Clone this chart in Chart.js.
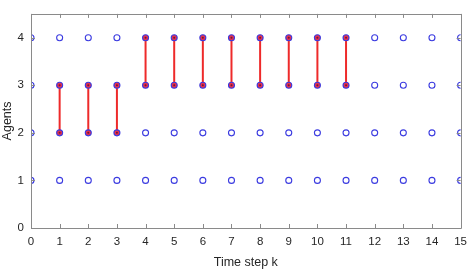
<!DOCTYPE html>
<html>
<head>
<meta charset="utf-8">
<script src="https://cdn.jsdelivr.net/npm/chart.js@4/dist/chart.umd.min.js"></script>
<style>
  html, body { margin: 0; padding: 0; background: #fff; }
  #wrap { width: 474px; height: 270px; }
</style>
</head>
<body>
<div id="wrap"><canvas id="grafica"></canvas></div>
<script>
// ===============================
// DATOS
// ===============================
const steps = [0, 1, 2, 3, 4, 5, 6, 7, 8, 9, 10, 11, 12, 13, 14, 15];
const agents = [1, 2, 3, 4];
const yTicks = [0, 1, 2, 3, 4];

// enlaces rojos: paso k, agente inferior, agente superior
const linkSteps = [1, 2, 3, 4, 5, 6, 7, 8, 9, 10, 11];
const linkLow   = [2, 2, 2, 3, 3, 3, 3, 3, 3, 3, 3];
const linkHigh  = [3, 3, 3, 4, 4, 4, 4, 4, 4, 4, 4];

// ===============================
// PUNTOS
// ===============================
const circulos = [];
steps.forEach(k => agents.forEach(a => circulos.push({ x: k, y: a })));

const enlaces = [];
linkSteps.forEach((k, i) => {
    enlaces.push({ x: k, y: linkLow[i] });
    enlaces.push({ x: k, y: linkHigh[i] });
    enlaces.push({ x: k, y: null });
});

const fuente = { family: "'Liberation Sans', Arial, sans-serif", size: 11.5 };
const fuenteTitulo = { family: "'Liberation Sans', Arial, sans-serif", size: 12.5 };
const gris = "#8a8a8a";

// marco y ticks hacia dentro, estilo MATLAB
const marco = {
    id: "marco",
    afterDraw(chart) {
        const { ctx, chartArea: a, scales: { x, y } } = chart;
        ctx.save();
        ctx.strokeStyle = gris;
        ctx.lineWidth = 1;
        ctx.beginPath();
        ctx.rect(Math.round(a.left) + 0.5, Math.round(a.top) + 0.5,
                 Math.round(a.right - a.left), Math.round(a.bottom - a.top));
        const t = 4;
        steps.forEach(k => {
            const px = Math.round(x.getPixelForValue(k)) + 0.5;
            ctx.moveTo(px, a.bottom); ctx.lineTo(px, a.bottom - t);
            ctx.moveTo(px, a.top); ctx.lineTo(px, a.top + t);
        });
        yTicks.forEach(v => {
            const py = Math.round(y.getPixelForValue(v)) + 0.5;
            ctx.moveTo(a.left, py); ctx.lineTo(a.left + t, py);
            ctx.moveTo(a.right, py); ctx.lineTo(a.right - t, py);
        });
        ctx.stroke();
        ctx.restore();
    }
};

new Chart(document.getElementById("grafica"), {
    type: "scatter",
    data: {
        datasets: [
            {
                label: "Agentes",
                data: circulos,
                order: 0,
                pointStyle: "circle",
                pointRadius: 3,
                pointBorderWidth: 1.1,
                pointBorderColor: "#3b3be0",
                pointBackgroundColor: "rgba(0,0,0,0)",
                showLine: false
            },
            {
                label: "Enlaces",
                data: enlaces,
                order: 1,
                showLine: true,
                spanGaps: false,
                borderColor: "#ee2a2a",
                borderWidth: 2,
                pointRadius: 3,
                pointBorderWidth: 0,
                pointBackgroundColor: "#e8304a"
            },
            {
                label: "Centros",
                data: enlaces,
                order: -1,
                showLine: false,
                pointRadius: 1,
                pointBorderWidth: 0,
                pointBackgroundColor: "#6a1a3a"
            }
        ]
    },
    options: {
        responsive: true,
        maintainAspectRatio: false,
        animation: false,
        layout: { padding: { top: 7, right: 12, left: 0, bottom: 0 } },
        plugins: { legend: { display: false }, tooltip: { enabled: false } },
        scales: {
            x: {
                type: "linear",
                min: 0,
                max: 15,
                afterBuildTicks: s => { s.ticks = steps.map(v => ({ value: v })); },
                afterFit: s => { s.height = 42; },
                grid: { display: false, drawTicks: false },
                border: { display: false },
                ticks: { color: "#262626", font: fuente, padding: 7, maxRotation: 0, autoSkip: false },
                title: { display: true, text: "Time step k", color: "#262626", font: fuenteTitulo, padding: { top: 0, bottom: 0 } }
            },
            y: {
                type: "linear",
                min: 0,
                max: 4.5,
                afterBuildTicks: s => { s.ticks = yTicks.map(v => ({ value: v })); },
                afterFit: s => { s.width = 31; },
                grid: { display: false, drawTicks: false },
                border: { display: false },
                ticks: { color: "#262626", font: fuente, padding: 7 },
                title: { display: true, text: "Agents", color: "#262626", font: fuenteTitulo, padding: { top: 0, bottom: 1 } }
            }
        }
    },
    plugins: [marco]
});
</script>
</body>
</html>
